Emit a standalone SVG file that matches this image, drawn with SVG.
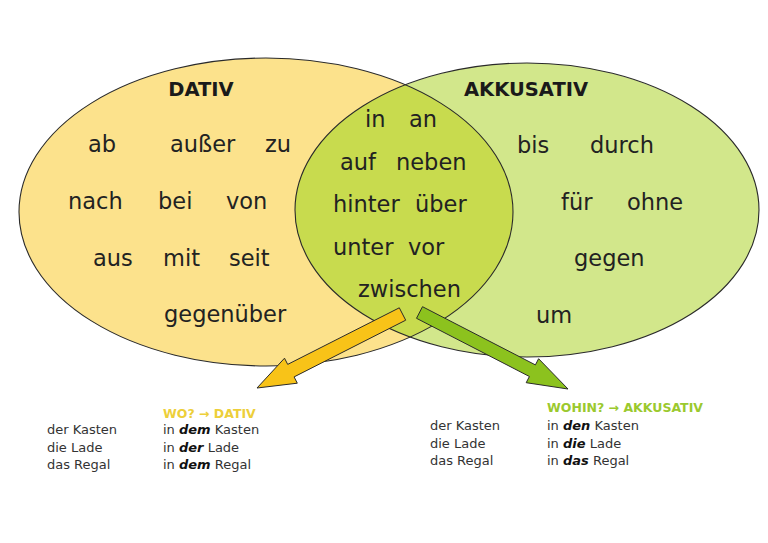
<svg xmlns="http://www.w3.org/2000/svg" width="768" height="543" viewBox="0 0 768 543">
<defs>
<style>
.w{font-family:"DejaVu Sans","Liberation Sans",sans-serif;font-size:22.5px;fill:#222}
.t{font-family:"DejaVu Sans","Liberation Sans",sans-serif;font-size:19.5px;font-weight:bold;fill:#1a1a1a;text-anchor:middle}
.s{font-family:"DejaVu Sans","Liberation Sans",sans-serif;font-size:13px;fill:#333}
.b{font-weight:bold;font-style:italic;fill:#111}
.h{font-family:"DejaVu Sans","Liberation Sans",sans-serif;font-size:12.5px;font-weight:bold}
.o{fill:none;stroke:#2a2a2a;stroke-width:1.1}
.ar{stroke:#2a2a2a;stroke-width:1;stroke-linejoin:miter}
</style>
<clipPath id="clipL"><ellipse cx="266" cy="212" rx="247" ry="154"/></clipPath>
</defs>
<rect width="768" height="543" fill="#fff"/>
<g id="dativ">
<ellipse cx="266" cy="212" rx="247" ry="154" fill="#FCE28C"/>
</g>
<g id="akkusativ">
<ellipse cx="527" cy="210" rx="232" ry="147" fill="#D2E78B"/>
</g>
<g id="overlap">
<ellipse cx="527" cy="210" rx="232" ry="147" fill="#C8DB4E" clip-path="url(#clipL)"/>
</g>
<g id="outlines">
<ellipse class="o" cx="266" cy="212" rx="247" ry="154"/>
<ellipse class="o" cx="527" cy="210" rx="232" ry="147"/>
</g>
<g id="dativ-words">
<text class="t" x="201" y="96">DATIV</text>
<text class="w" x="88" y="152">ab</text>
<text class="w" x="170" y="152">außer</text>
<text class="w" x="265" y="152">zu</text>
<text class="w" x="68" y="209">nach</text>
<text class="w" x="158" y="209">bei</text>
<text class="w" x="226" y="209">von</text>
<text class="w" x="93" y="266">aus</text>
<text class="w" x="163" y="266">mit</text>
<text class="w" x="229" y="266">seit</text>
<text class="w" x="164" y="322">gegenüber</text>
</g>
<g id="both-words">
<text class="w" x="365" y="127">in</text>
<text class="w" x="409" y="127">an</text>
<text class="w" x="340" y="170">auf</text>
<text class="w" x="396" y="170">neben</text>
<text class="w" x="333" y="212">hinter</text>
<text class="w" x="415" y="212">über</text>
<text class="w" x="333" y="255">unter</text>
<text class="w" x="408" y="255">vor</text>
<text class="w" x="358" y="297">zwischen</text>
</g>
<g id="akkusativ-words">
<text class="t" x="526" y="96">AKKUSATIV</text>
<text class="w" x="517" y="153">bis</text>
<text class="w" x="590" y="153">durch</text>
<text class="w" x="561" y="210">für</text>
<text class="w" x="627" y="210">ohne</text>
<text class="w" x="574" y="266">gegen</text>
<text class="w" x="536" y="323">um</text>
</g>
<g id="connectors">
<polygon class="ar" fill="#F8C318" points="399.3,307.8 287.7,364.4 284.5,358.2 257,388 297.3,383.2 294.1,376.9 405.7,320.2"/>
<polygon class="ar" fill="#8CC21E" points="422.5,306.7 535.4,364.9 538.6,358.7 568,389 526.2,382.7 529.4,376.5 416.5,318.3"/>
</g>
<g id="wo">
<text class="h" x="163" y="418" fill="#EDCF3A">WO? → DATIV</text>
<text class="s" x="47" y="434">der Kasten</text>
<text class="s" x="47" y="452">die Lade</text>
<text class="s" x="47" y="469">das Regal</text>
<text class="s" x="163" y="434">in <tspan class="b">dem</tspan> Kasten</text>
<text class="s" x="163" y="452">in <tspan class="b">der</tspan> Lade</text>
<text class="s" x="163" y="469">in <tspan class="b">dem</tspan> Regal</text>
</g>
<g id="wohin">
<text class="h" x="547" y="412" fill="#9BC92E">WOHIN? → AKKUSATIV</text>
<text class="s" x="430" y="430">der Kasten</text>
<text class="s" x="430" y="448">die Lade</text>
<text class="s" x="430" y="465">das Regal</text>
<text class="s" x="547" y="430">in <tspan class="b">den</tspan> Kasten</text>
<text class="s" x="547" y="448">in <tspan class="b">die</tspan> Lade</text>
<text class="s" x="547" y="465">in <tspan class="b">das</tspan> Regal</text>
</g>
</svg>
